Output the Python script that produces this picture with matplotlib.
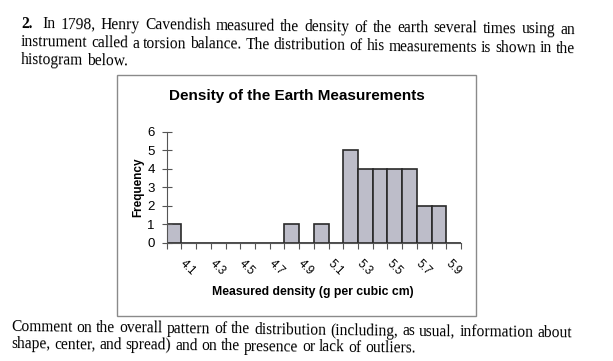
import math
import matplotlib
matplotlib.use('Agg')
import matplotlib.pyplot as plt
import matplotlib.transforms as mtrans
from matplotlib.patches import Rectangle

#Histogram data (bin upper limits, g per cubic cm)#
bins = ['4.1', '4.2', '4.3', '4.4', '4.5', '4.6', '4.7', '4.8', '4.9', '5.0',
        '5.1', '5.2', '5.3', '5.4', '5.5', '5.6', '5.7', '5.8', '5.9', '6.0']
counts = [1, 0, 0, 0, 0, 0, 0, 0, 1, 0, 1, 0, 5, 4, 4, 4, 4, 2, 2, 0]
yticks = [0, 1, 2, 3, 4, 5, 6]

#Worksheet text#
top_lines = ['In 1798, Henry Cavendish measured the density of the earth several times using an',
             'instrument called a torsion balance.  The distribution of his measurements is shown in the',
             'histogram below.']
bottom_lines = ['Comment on the overall pattern of the distribution (including, as usual, information about',
                'shape, center, and spread) and on the presence or lack of outliers.']

W, H = 613, 361
fig = plt.figure(figsize=(W / 100, H / 100), dpi=100)
fig.patch.set_facecolor('white')
renderer = fig.canvas.get_renderer()

def fx(px):
    return px / W

def fy(py):
    return 1 - py / H

serif = 'Liberation Serif'
sans = 'Liberation Sans'
FS = 11.2
TILT = -0.65  # scan is a little skewed

def line(x0, y0, text, x1=None, weight='normal'):
    #draw a line of words, spread to end at x1 when given (justified text)#
    words = text.split()
    widths = []
    for w in words:
        t = fig.text(0, 0, w, fontsize=FS, family=serif, fontweight=weight)
        widths.append(t.get_window_extent(renderer).width)
        t.remove()
    sp = fig.text(0, 0, 'a b', fontsize=FS, family=serif)
    gap = sp.get_window_extent(renderer).width
    sp.remove()
    a = fig.text(0, 0, 'ab', fontsize=FS, family=serif)
    gap -= a.get_window_extent(renderer).width
    a.remove()
    if x1 is not None and len(words) > 1:
        gap = (x1 - x0 - sum(widths)) / (len(words) - 1)
    slope = math.tan(math.radians(-TILT))
    x = x0
    for w, wd in zip(words, widths):
        y = y0 + (x - x0) * slope
        fig.text(fx(x), fy(y), w, fontsize=FS, family=serif, fontweight=weight,
                 va='baseline', rotation=TILT, rotation_mode='anchor')
        x += wd + gap

#Question text#
line(21, 28, '2.', weight='bold')
line(42, 28, top_lines[0], x1=575)
line(21, 46.5, top_lines[1], x1=575)
line(21, 64.5, top_lines[2])

line(11, 331, bottom_lines[0], x1=572)
line(11, 348, bottom_lines[1])

#Chart frame#
fig.patches.append(Rectangle((fx(117), fy(316)), fx(476) - fx(117), fy(75) - fy(316),
                             transform=fig.transFigure, fill=False,
                             edgecolor='#8a8a8a', linewidth=1.0))

#Plot area#
ax = fig.add_axes([fx(166.7), fy(242.7), fx(461) - fx(166.7), fy(131.7) - fy(242.7)])
x = [i + 0.5 for i in range(len(counts))]
ax.bar(x, counts, width=1.0, color='#bdbdc9', edgecolor='#2a2a2a', linewidth=1.2)

ax.set_xlim(0, len(counts))
ax.set_ylim(0, 6)
for s in ['top', 'right']:
    ax.spines[s].set_visible(False)
for s in ['left', 'bottom']:
    ax.spines[s].set_color('#555555')
    ax.spines[s].set_linewidth(0.8)

ax.set_yticks(yticks)
ax.set_yticklabels([str(v) for v in yticks], family=sans, fontsize=9.5)
ax.tick_params(axis='y', direction='inout', length=7, width=0.8, color='#555555', pad=5)
ax.set_xticks(range(len(counts) + 1))
ax.set_xticklabels([])
ax.tick_params(axis='x', direction='out', length=4, width=0.8, color='#555555')

#Rotated category labels, every other bin#
offset = mtrans.ScaledTranslation(14 / 100, -25 / 100, fig.dpi_scale_trans)
for i in range(0, len(bins), 2):
    ax.text(x[i], 0, bins[i], fontsize=8.5, family=sans, rotation=-45,
            ha='center', va='center', transform=ax.transData + offset)

fig.text(fx(297), fy(96), 'Density of the Earth Measurements', fontsize=11, family=sans,
         fontweight='bold', ha='center', va='center')
fig.text(fx(138), fy(187), 'Frequency', fontsize=8.5, family=sans, fontweight='bold',
         rotation=90, ha='center', va='center')
fig.text(fx(313), fy(292), 'Measured density (g per cubic cm)', fontsize=8.8, family=sans,
         fontweight='bold', ha='center', va='center')

fig.savefig('out.png', dpi=100)
